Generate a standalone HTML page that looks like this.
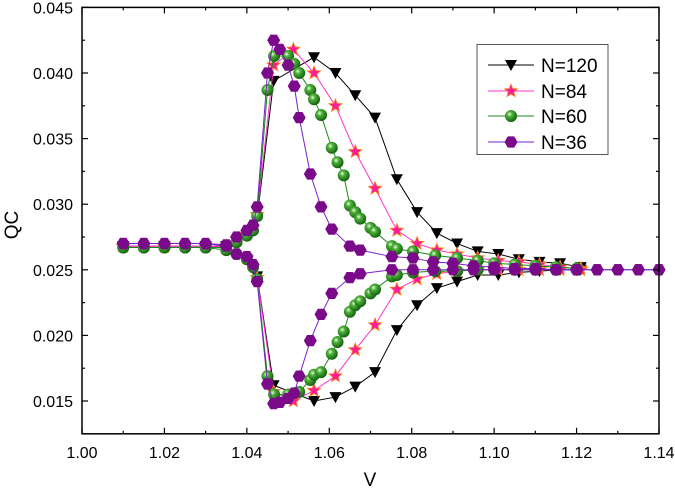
<!DOCTYPE html>
<html><head><meta charset="utf-8"><style>
html,body{margin:0;padding:0;background:#fff;width:675px;height:490px;overflow:hidden}
svg{display:block;font-family:"Liberation Sans",Arial,sans-serif}
</style></head><body>
<svg id="chart" width="675" height="490" viewBox="0 0 675 490" xmlns="http://www.w3.org/2000/svg">
<defs>
<radialGradient id="ball" cx="0.38" cy="0.35" r="0.7">
<stop offset="0" stop-color="#e8ffe0"/><stop offset="0.3" stop-color="#4fb03a"/><stop offset="1" stop-color="#0b5a08"/>
</radialGradient>
</defs>
<g id="plot"></g>
<g id="axes"></g>
<g id="legend"></g>
</svg>
<script>
// ---- data ----
const xTicks=[1.00,1.02,1.04,1.06,1.08,1.10,1.12,1.14];
const xTickLabels=["1.00","1.02","1.04","1.06","1.08","1.10","1.12","1.14"];
const yTicks=[0.015,0.020,0.025,0.030,0.035,0.040,0.045];
const yTickLabels=["0.015","0.020","0.025","0.030","0.035","0.040","0.045"];
const seriesNames=["N=120","N=84","N=60","N=36"];

const n36X=[1.010,1.015,1.020,1.025,1.030,1.035,1.0375,1.040,1.0415,1.0425,1.045,1.0465,1.048,1.050,1.0515,1.0527,1.0554,1.058,1.0606,1.065,1.0675,1.0752,1.0803,1.0852,1.090,1.095,1.100,1.105,1.110,1.115,1.120,1.125,1.130,1.135,1.140];
const n36Up=[0.0270,0.0270,0.0270,0.0270,0.0270,0.0269,0.0275,0.0280,0.0284,0.0298,0.0400,0.0425,0.0418,0.0406,0.0390,0.0366,0.0323,0.0298,0.0281,0.0268,0.0265,0.0260,0.0259,0.0256,0.0255,0.0253,0.0252,0.0251,0.0251,0.0250,0.0250,0.0250,0.0250,0.0250,0.0250];
const n36Lo=[0.0270,0.0270,0.0270,0.0270,0.0270,0.0268,0.0262,0.0260,0.0254,0.0241,0.0163,0.0148,0.0149,0.0152,0.0156,0.0169,0.0196,0.0216,0.0232,0.0244,0.0247,0.0250,0.0250,0.0250,0.0250,0.0250,0.0250,0.0250,0.0250,0.0250,0.0250,0.0250,0.0250,0.0250,0.0250];

const n60X=[1.010,1.015,1.020,1.025,1.030,1.035,1.0375,1.040,1.0415,1.0425,1.045,1.0466,1.050,1.0515,1.0527,1.0554,1.0563,1.058,1.0606,1.062,1.0635,1.065,1.0663,1.0675,1.070,1.0711,1.0752,1.0764,1.0803,1.0857,1.091,1.096,1.100,1.105,1.110,1.115,1.120];
const n60Up=[0.0267,0.0267,0.0267,0.0267,0.0267,0.0267,0.0271,0.0276,0.0280,0.0291,0.0387,0.0413,0.0413,0.0407,0.0400,0.0387,0.0380,0.0368,0.0343,0.0332,0.0322,0.0299,0.0294,0.0289,0.0282,0.0279,0.0268,0.0266,0.0264,0.0261,0.0259,0.0257,0.0255,0.0254,0.0253,0.0252,0.0251];
const n60Lo=[0.0267,0.0267,0.0267,0.0267,0.0267,0.0265,0.0262,0.0258,0.0252,0.0243,0.0169,0.0155,0.0155,0.0156,0.0157,0.0166,0.0170,0.0172,0.0186,0.0195,0.0203,0.0218,0.0223,0.0226,0.0232,0.0235,0.0245,0.0246,0.0248,0.0249,0.0249,0.0250,0.0250,0.0250,0.0250,0.0250,0.0250];

const n84X=[1.010,1.020,1.030,1.035,1.040,1.0425,1.0465,1.0513,1.0563,1.0615,1.0663,1.0711,1.0764,1.0813,1.0861,1.091,1.096,1.101,1.106,1.111,1.116,1.121];
const n84Up=[0.0268,0.0268,0.0268,0.0268,0.0277,0.0292,0.0406,0.0418,0.0400,0.0375,0.0340,0.0312,0.0280,0.0270,0.0265,0.0262,0.0259,0.0257,0.0256,0.0254,0.0252,0.0251];
const n84Lo=[0.0268,0.0268,0.0268,0.0267,0.0259,0.0244,0.0157,0.0150,0.0158,0.0169,0.0189,0.0208,0.0235,0.0243,0.0247,0.0249,0.0250,0.0250,0.0250,0.0250,0.0250,0.0250];

const n120X=[1.010,1.020,1.030,1.035,1.040,1.0425,1.0465,1.0563,1.0615,1.0663,1.0711,1.0764,1.0813,1.0861,1.091,1.096,1.101,1.106,1.111,1.116,1.121];
const n120Up=[0.0268,0.0268,0.0268,0.0268,0.0276,0.0290,0.0394,0.0412,0.0400,0.0383,0.0366,0.0319,0.0294,0.0278,0.0270,0.0264,0.0262,0.0258,0.0256,0.0255,0.0252];
const n120Lo=[0.0268,0.0268,0.0268,0.0267,0.0258,0.0245,0.0162,0.0150,0.0153,0.0161,0.0172,0.0204,0.0223,0.0236,0.0241,0.0246,0.0246,0.0248,0.0249,0.0250,0.0250];

// ---- scales ----
const X0=82,X1=659,Y0=433.8,Y1=7.4;
const xMin=1.00,xMax=1.14,yMin=0.0125,yMax=0.045;
function sx(v){return X0+(v-xMin)/(xMax-xMin)*(X1-X0);}
function sy(v){return Y0-(v-yMin)/(yMax-yMin)*(Y0-Y1);}
const NS="http://www.w3.org/2000/svg";
function mk(tag,attrs,parent){const e=document.createElementNS(NS,tag);for(const k in attrs)e.setAttribute(k,attrs[k]);parent.appendChild(e);return e;}

const plot=document.getElementById('plot');
const axes=document.getElementById('axes');
const legend=document.getElementById('legend');

function marker(type,cx,cy,parent){
  let e;
  if(type==='tri'){
    e=mk('polygon',{points:`${cx-6},${cy-5} ${cx+6},${cy-5} ${cx},${cy+6}`,fill:'#000'},parent);
  }else if(type==='star'){
    let p=[];for(let i=0;i<10;i++){const r=i%2?3:7;const a=-Math.PI/2+i*Math.PI/5;p.push((cx+r*Math.cos(a)).toFixed(2)+','+(cy+r*Math.sin(a)).toFixed(2));}
    e=mk('polygon',{points:p.join(' '),fill:'#ff1a9c',stroke:'#ff8a1a','stroke-width':0.8},parent);
  }else if(type==='ball'){
    e=mk('circle',{cx:cx,cy:cy,r:6,fill:'url(#ball)'},parent);
  }else{
    let p=[];for(let i=0;i<6;i++){const a=i*Math.PI/3;p.push((cx+6.5*Math.cos(a)).toFixed(2)+','+(cy+6.5*Math.sin(a)).toFixed(2));}
    e=mk('polygon',{points:p.join(' '),fill:'#7a0a8a'},parent);
  }
  return e;
}

const series=[
 {name:'n120',xs:n120X,up:n120Up,lo:n120Lo,color:'#000',m:'tri'},
 {name:'n84',xs:n84X,up:n84Up,lo:n84Lo,color:'#ff33cc',m:'star'},
 {name:'n60',xs:n60X,up:n60Up,lo:n60Lo,color:'#1a8a1a',m:'ball'},
 {name:'n36',xs:n36X,up:n36Up,lo:n36Lo,color:'#7a22cc',m:'hex'}
];
series.forEach(s=>{
  const g=mk('g',{},plot);
  
  
  [['upper',s.up],['lower',s.lo]].forEach(([br,vals])=>{
    const pts=s.xs.map((x,i)=>sx(x).toFixed(2)+','+sy(vals[i]).toFixed(2)).join(' ');
    const l=mk('polyline',{points:pts,fill:'none',stroke:s.color,'stroke-width':1},g);
    
    
  });
  [['upper',s.up],['lower',s.lo]].forEach(([br,vals])=>{
    s.xs.forEach((x,i)=>{
      const m=marker(s.m,sx(x),sy(vals[i]),g);
      
      
    });
  });
});

// ---- axes ----
const frame=mk('rect',{x:X0,y:Y1,width:X1-X0,height:Y0-Y1,fill:'none',stroke:'#000','stroke-width':1.5},axes);


for(let v=1.00;v<=1.1401;v+=0.01){
  const major=Math.round(v*100)%2===0;const len=major?6:3;const x=sx(v);
  mk('line',{x1:x,y1:Y0,x2:x,y2:Y0-len,stroke:'#000','stroke-width':1.2},axes);
  mk('line',{x1:x,y1:Y1,x2:x,y2:Y1+len,stroke:'#000','stroke-width':1.2},axes);
}
for(let k=0;k<=13;k++){
  const v=0.0125+k*0.0025;const major=k%2===1;const len=major?6:3;const y=sy(v);
  mk('line',{x1:X0,y1:y,x2:X0+len,y2:y,stroke:'#000','stroke-width':1.2},axes);
  mk('line',{x1:X1,y1:y,x2:X1-len,y2:y,stroke:'#000','stroke-width':1.2},axes);
}
xTicks.forEach((v,i)=>{
  const t=mk('text',{x:sx(v),y:458,'text-anchor':'middle','font-size':16,fill:'#000'},axes);
  t.textContent=xTickLabels[i];
  
  
});
yTicks.forEach((v,i)=>{
  const t=mk('text',{x:73,y:sy(v)+6,'text-anchor':'end','font-size':16,fill:'#000'},axes);
  t.textContent=yTickLabels[i];
  
  
});
const xt=mk('text',{x:370,y:486,'text-anchor':'middle','font-size':19,fill:'#000'},axes);
xt.textContent='V';


const yt=mk('text',{x:0,y:0,'text-anchor':'middle','font-size':19,fill:'#000',transform:'translate(18,225) rotate(-90)'},axes);
yt.textContent='QC';



// ---- legend ----
const lb=mk('rect',{x:477,y:44.5,width:131,height:110,fill:'#fff',stroke:'#555','stroke-width':1},legend);


const rowsY=[65,91,116,142];
series.forEach((s,i)=>{
  const g=mk('g',{},legend);
  
  
  mk('line',{x1:488,y1:rowsY[i],x2:534,y2:rowsY[i],stroke:s.color,'stroke-width':1},g);
  marker(s.m,511,rowsY[i],g);
  const t=mk('text',{x:541,y:rowsY[i]+7,'font-size':19,fill:'#000'},g);
  t.textContent=seriesNames[i];
});
</script>
</body></html>
